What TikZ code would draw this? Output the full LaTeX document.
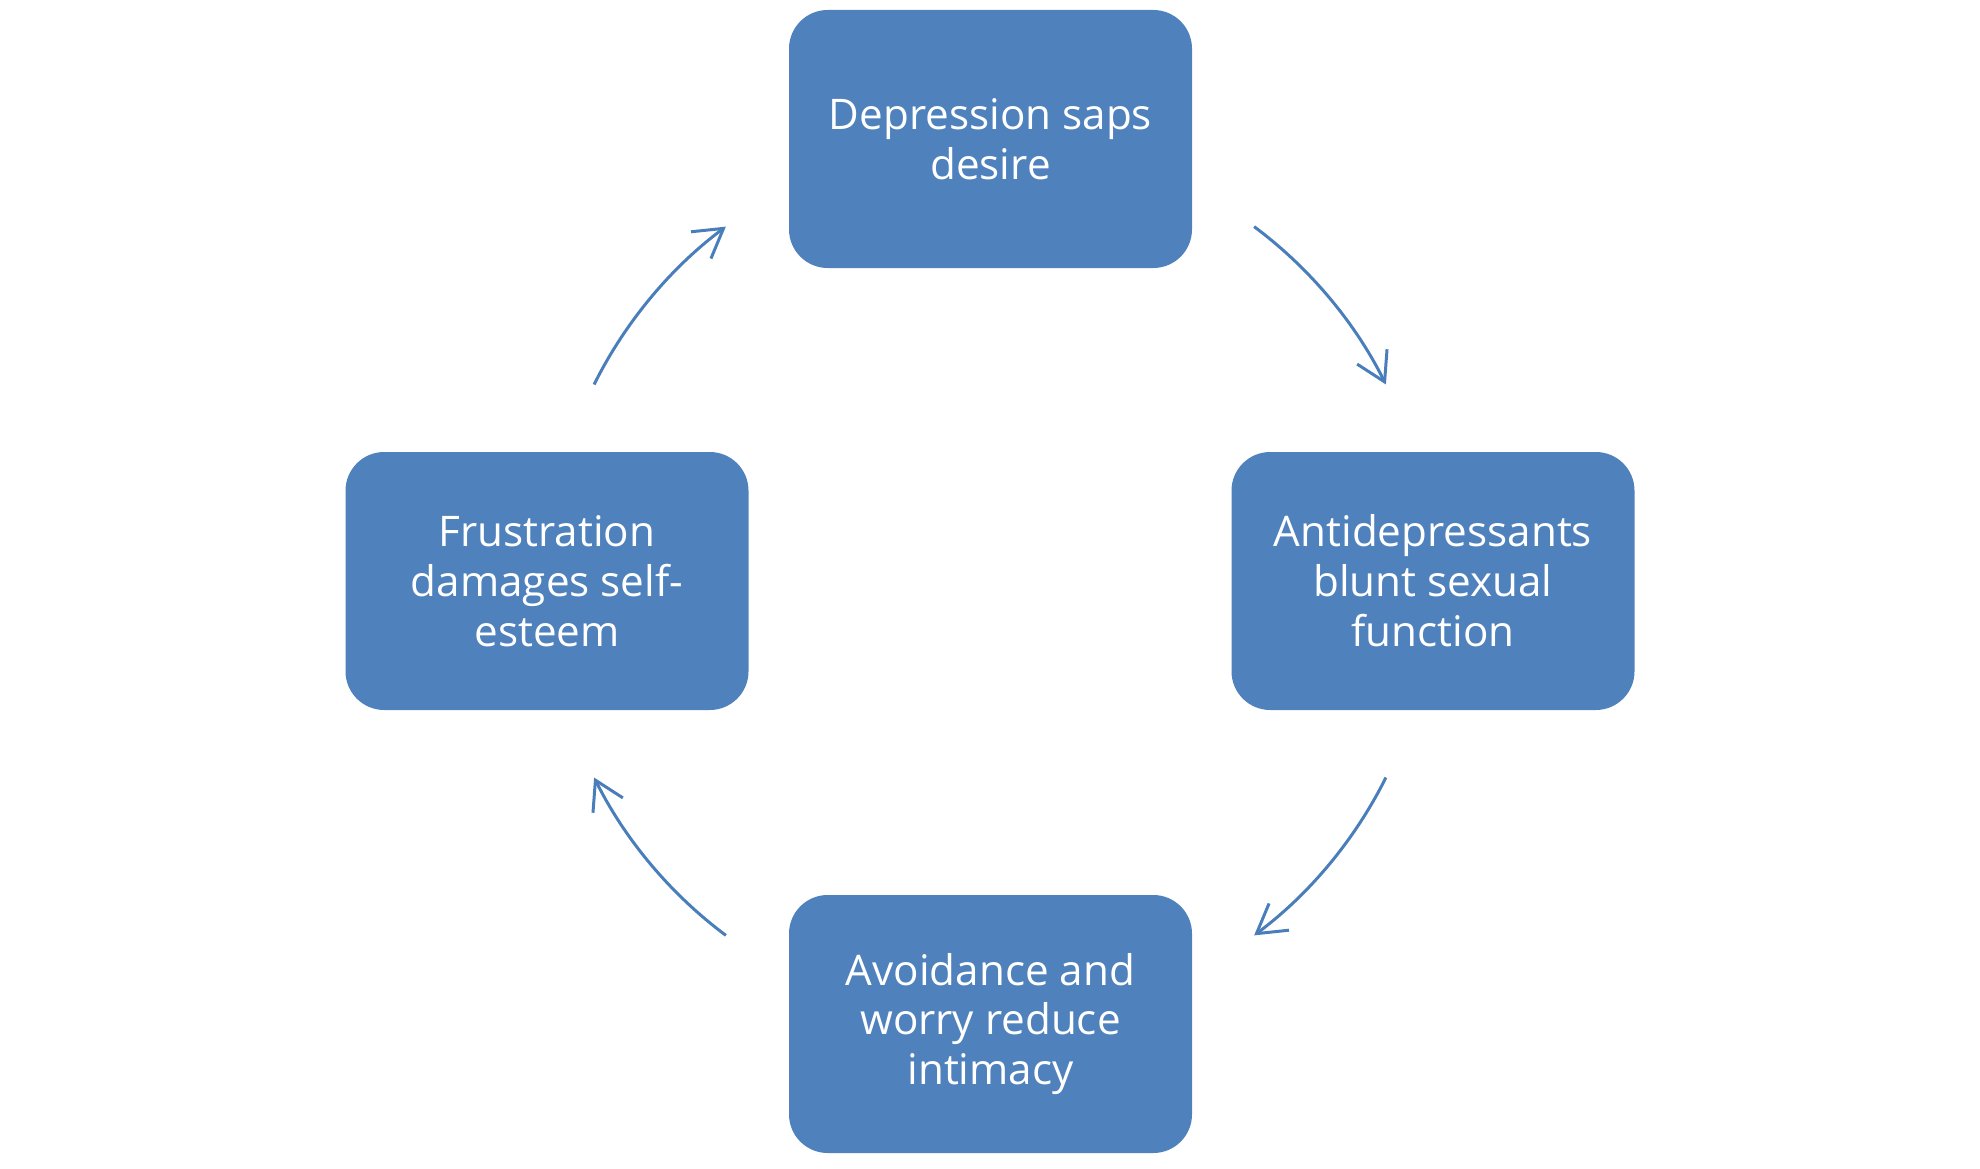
\documentclass[tikz,border=0pt]{standalone}
\usepackage{fontspec}
\setmainfont{Open Sans}
\usepackage{tikz}
\usetikzlibrary{
arrows.meta,
positioning
}
\definecolor{cycblue}{HTML}{4F81BD}
\definecolor{cycline}{HTML}{4A7EBB}

\begin{document}
\begin{tikzpicture}[
  >={Straight Barb[length=8pt, width=9.5pt]},
  stage/.style={fill=cycblue, draw=none, rounded corners=11pt,
    minimum width=4.03cm, minimum height=2.58cm, align=center,
    text=white, font=\fontsize{12}{14.2}\selectfont},
  cycarrow/.style={->, cycline, line width=0.85pt}
]
\useasboundingbox (0,0) rectangle (19.8,11.68);

%% ── STAGES ──────────────────────────────────────────────────
\node[stage] (desire)   at (9.905, 10.29) {Depression saps\\desire};
\node[stage] (blunt)    at (14.33, 5.87)  {Antidepressants\\blunt sexual\\function};
\node[stage] (avoid)    at (9.905, 1.44)  {Avoidance and\\worry reduce\\intimacy};
\node[stage] (esteem)   at (5.47, 5.87)   {Frustration\\damages self-\\esteem};

%% ── CYCLE ARROWS ────────────────────────────────────────────
\coordinate (hub) at (9.9, 5.87);
\foreach \a/\b [count=\i] in {53.3/26.4, -26.4/-53.3, -126.7/-153.6, 153.6/126.7}
  \path (hub) ++(\a:4.42) coordinate (s\i)
        (hub) ++(\b:4.42) coordinate (e\i);

\foreach \i in {1,...,4}
  \draw[cycarrow] (s\i) to[bend left=13.45, looseness=0.86] (e\i);

\end{tikzpicture}
\end{document}
